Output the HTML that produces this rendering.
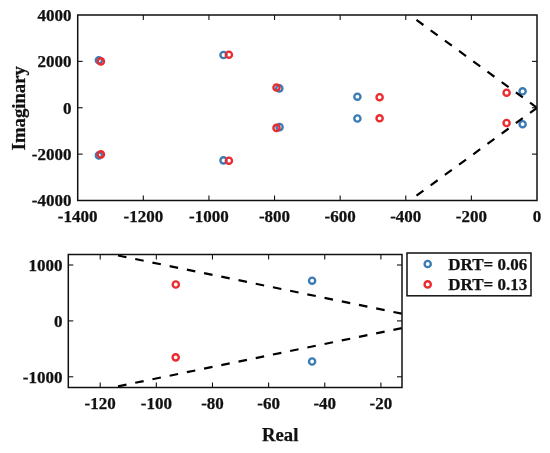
<!DOCTYPE html>
<html><head><meta charset="utf-8"><style>html,body{margin:0;padding:0;background:#fff;}svg{display:block;}</style></head><body>
<svg width="550" height="453" viewBox="0 0 550 453">
<rect width="550" height="453" fill="#fff"/>
<defs><clipPath id="ct"><rect x="77.7" y="15" width="459.3" height="185.5"/></clipPath>
<clipPath id="cb"><rect x="68.3" y="254.5" width="333.7" height="133"/></clipPath></defs>
<g fill="none" stroke="#3b7bb6" stroke-width="2.4"><circle cx="98.9" cy="60.3" r="3.1"/><circle cx="98.9" cy="155.4" r="3.1"/><circle cx="223.5" cy="55" r="3.1"/><circle cx="223.5" cy="160.4" r="3.1"/><circle cx="279.3" cy="88.4" r="3.1"/><circle cx="279.6" cy="127.1" r="3.1"/><circle cx="357.4" cy="96.7" r="3.1"/><circle cx="357.4" cy="118.5" r="3.1"/><circle cx="522.6" cy="91.3" r="3.1"/><circle cx="522.6" cy="124.2" r="3.1"/></g>
<g fill="none" stroke="#ec2b2f" stroke-width="2.4"><circle cx="100.9" cy="61.4" r="3.1"/><circle cx="100.9" cy="154.4" r="3.1"/><circle cx="228.9" cy="54.7" r="3.1"/><circle cx="228.9" cy="160.7" r="3.1"/><circle cx="276.5" cy="87.5" r="3.1"/><circle cx="276.5" cy="127.9" r="3.1"/><circle cx="379.6" cy="97.2" r="3.1"/><circle cx="379.6" cy="118.3" r="3.1"/><circle cx="506.6" cy="92.7" r="3.1"/><circle cx="506.6" cy="123" r="3.1"/></g>
<g clip-path="url(#ct)" fill="none" stroke="#000" stroke-width="2.2" stroke-dasharray="8.6 8.97"><line x1="537" y1="107.8" x2="375.39" y2="-10.02"/><line x1="537" y1="107.8" x2="375.39" y2="225.62"/></g>
<g fill="none" stroke="#3b7bb6" stroke-width="2.4"><circle cx="312.1" cy="280.7" r="3.1"/><circle cx="312.1" cy="361.5" r="3.1"/></g>
<g fill="none" stroke="#ec2b2f" stroke-width="2.4"><circle cx="175.8" cy="284.5" r="3.1"/><circle cx="175.7" cy="357.35" r="3.1"/></g>
<g clip-path="url(#cb)" fill="none" stroke="#000" stroke-width="2.2" stroke-dasharray="8.6 8.97" stroke-dashoffset="-0.8"><line x1="437.04" y1="320.9" x2="25.6" y2="236.55"/><line x1="437.04" y1="320.9" x2="25.6" y2="405.25"/></g>
<g stroke="#111" stroke-width="1.1">
<line x1="143.31" y1="200.5" x2="143.31" y2="195.5"/><line x1="143.31" y1="15" x2="143.31" y2="20"/><line x1="208.93" y1="200.5" x2="208.93" y2="195.5"/><line x1="208.93" y1="15" x2="208.93" y2="20"/><line x1="274.54" y1="200.5" x2="274.54" y2="195.5"/><line x1="274.54" y1="15" x2="274.54" y2="20"/><line x1="340.16" y1="200.5" x2="340.16" y2="195.5"/><line x1="340.16" y1="15" x2="340.16" y2="20"/><line x1="405.77" y1="200.5" x2="405.77" y2="195.5"/><line x1="405.77" y1="15" x2="405.77" y2="20"/><line x1="471.38" y1="200.5" x2="471.38" y2="195.5"/><line x1="471.38" y1="15" x2="471.38" y2="20"/><line x1="77.7" y1="61.38" x2="82.7" y2="61.38"/><line x1="537" y1="61.38" x2="532" y2="61.38"/><line x1="77.7" y1="107.75" x2="82.7" y2="107.75"/><line x1="537" y1="107.75" x2="532" y2="107.75"/><line x1="77.7" y1="154.12" x2="82.7" y2="154.12"/><line x1="537" y1="154.12" x2="532" y2="154.12"/><line x1="100.2" y1="387.5" x2="100.2" y2="382.5"/><line x1="100.2" y1="254.5" x2="100.2" y2="259.5"/><line x1="156.34" y1="387.5" x2="156.34" y2="382.5"/><line x1="156.34" y1="254.5" x2="156.34" y2="259.5"/><line x1="212.48" y1="387.5" x2="212.48" y2="382.5"/><line x1="212.48" y1="254.5" x2="212.48" y2="259.5"/><line x1="268.62" y1="387.5" x2="268.62" y2="382.5"/><line x1="268.62" y1="254.5" x2="268.62" y2="259.5"/><line x1="324.76" y1="387.5" x2="324.76" y2="382.5"/><line x1="324.76" y1="254.5" x2="324.76" y2="259.5"/><line x1="380.9" y1="387.5" x2="380.9" y2="382.5"/><line x1="380.9" y1="254.5" x2="380.9" y2="259.5"/><line x1="68.3" y1="265" x2="73.3" y2="265"/><line x1="402" y1="265" x2="397" y2="265"/><line x1="68.3" y1="320.9" x2="73.3" y2="320.9"/><line x1="402" y1="320.9" x2="397" y2="320.9"/><line x1="68.3" y1="376.8" x2="73.3" y2="376.8"/><line x1="402" y1="376.8" x2="397" y2="376.8"/>
</g>
<rect x="77.7" y="15" width="459.3" height="185.5" fill="none" stroke="#111" stroke-width="1.5"/>
<rect x="68.3" y="254.5" width="333.7" height="133" fill="none" stroke="#111" stroke-width="1.5"/>
<g font-family="'Liberation Serif', 'Times New Roman', serif" font-weight="bold" font-size="17" fill="#111" stroke="#111" stroke-width="0.25">
<text x="77.7" y="222.3" text-anchor="middle">-1400</text>
<text x="143.31" y="222.3" text-anchor="middle">-1200</text>
<text x="208.93" y="222.3" text-anchor="middle">-1000</text>
<text x="274.54" y="222.3" text-anchor="middle">-800</text>
<text x="340.16" y="222.3" text-anchor="middle">-600</text>
<text x="405.77" y="222.3" text-anchor="middle">-400</text>
<text x="471.38" y="222.3" text-anchor="middle">-200</text>
<text x="537" y="222.3" text-anchor="middle">0</text>
<text x="71.4" y="20.8" text-anchor="end">4000</text>
<text x="71.4" y="67.17" text-anchor="end">2000</text>
<text x="71.4" y="113.55" text-anchor="end">0</text>
<text x="71.4" y="159.93" text-anchor="end">-2000</text>
<text x="71.4" y="206.3" text-anchor="end">-4000</text>
<text x="100.2" y="409.3" text-anchor="middle">-120</text>
<text x="156.34" y="409.3" text-anchor="middle">-100</text>
<text x="212.48" y="409.3" text-anchor="middle">-80</text>
<text x="268.62" y="409.3" text-anchor="middle">-60</text>
<text x="324.76" y="409.3" text-anchor="middle">-40</text>
<text x="380.9" y="409.3" text-anchor="middle">-20</text>
<text x="62.5" y="270.8" text-anchor="end">1000</text>
<text x="62.5" y="326.7" text-anchor="end">0</text>
<text x="62.5" y="382.6" text-anchor="end">-1000</text>
</g>
<g font-family="'Liberation Serif', 'Times New Roman', serif" font-weight="bold" font-size="18.7" fill="#111" stroke="#111" stroke-width="0.25">
<text x="262" y="441" >Real</text>
<text transform="translate(25.4,150.3) rotate(-90)">Imaginary</text>
</g>
<rect x="407" y="253.0" width="124" height="42.8" fill="#fff" stroke="#111" stroke-width="1.5"/>
<circle cx="427.7" cy="264" r="3.1" fill="none" stroke="#3b7bb6" stroke-width="2.4"/>
<circle cx="427.7" cy="284.4" r="3.1" fill="none" stroke="#ec2b2f" stroke-width="2.4"/>
<g font-family="'Liberation Serif', 'Times New Roman', serif" font-weight="bold" font-size="17" fill="#111" stroke="#111" stroke-width="0.25">
<text x="448.2" y="270.0">DRT= 0.06</text>
<text x="448.2" y="290.3">DRT= 0.13</text>
</g>
</svg>
</body></html>
